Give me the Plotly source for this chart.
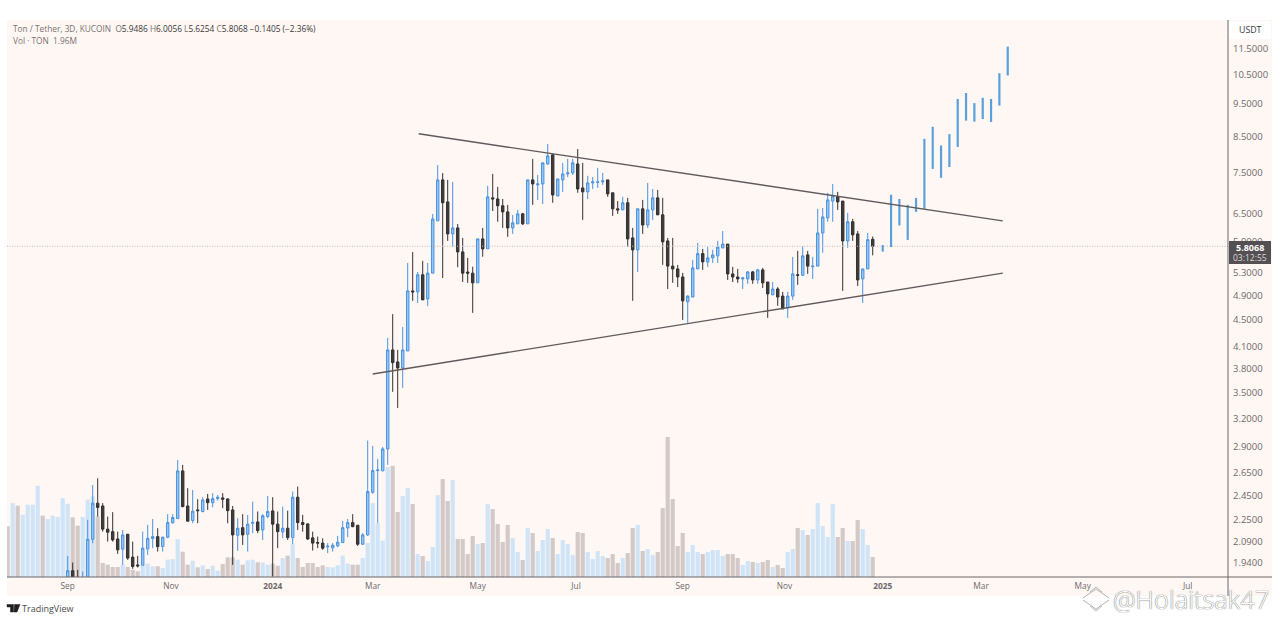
import pandas as pd
import plotly.graph_objects as go

# ---------- data ----------
first_bar = "2023-07-26"
first_candle_index = 12

volumes_m = [
 4.97,7.25,6.99,6.11,7.09,7.09,8.95,6.01,5.68,6.01,5.88,7.74,
 7.19,5.85,5.03,5.88,7.58,7.91,5.95,1.37,1.21,0.98,
 0.98,1.21,0.98,0.72,0.56,1.21,1.31,1.05,1.05,0.88,
 1.70,1.76,3.72,2.48,1.21,1.60,0.95,1.14,0.78,1.11,
 0.62,1.27,1.93,1.93,1.70,1.21,1.63,1.70,1.44,1.44,
 1.21,1.31,1.11,1.86,2.09,3.27,1.86,0.98,1.37,1.37,
 0.98,1.14,0.98,0.95,1.14,2.09,1.31,1.21,1.21,1.86,
 3.33,7.25,5.29,3.57,10.78,10.9,6.37,7.94,8.72,7.15,
 2.25,2.06,1.57,2.94,8.04,9.60,7.45,9.51,3.72,3.72,
 2.25,4.02,3.23,3.33,7.15,6.66,5.19,3.43,5.10,3.82,
 2.45,1.67,4.80,4.31,2.55,3.63,4.70,3.82,2.25,3.63,
 3.23,2.16,4.41,4.31,2.45,1.76,2.55,2.06,1.86,2.25,
 1.37,1.86,2.35,4.80,5.10,2.55,2.74,2.16,2.45,6.76,
 13.72,7.64,3.04,4.31,2.45,3.14,2.45,2.25,2.45,2.65,
 2.65,2.06,2.25,2.25,1.86,1.18,1.57,1.47,1.37,1.47,
 1.67,0.98,1.18,0.88,2.45,2.74,4.80,4.61,4.12,4.70,
 7.25,5.00,3.92,7.15,3.92,4.80,3.53,3.53,5.59,4.70,3.14,1.96,
]
# direction of the first volume bars, whose candles sit below the visible scale
early_volume_up = [0,1,0,1,1,1,1,0,1,1,1,1]

opens = [
 1.80,1.888,1.82,1.80,1.83,2.105,2.385,2.362,2.18,2.161,
 2.107,2.034,2.142,1.979,1.926,1.924,2.036,2.11,2.124,2.052,
 2.12,2.23,2.261,2.667,2.362,2.246,2.33,2.317,2.42,2.389,
 2.423,2.429,2.42,2.33,2.134,2.191,2.142,2.225,2.235,2.174,
 2.277,2.322,2.218,2.159,2.187,2.117,2.435,2.23,2.22,2.115,
 2.081,2.077,2.05,2.043,2.057,2.081,2.189,2.23,2.21,2.069,
 2.137,2.477,2.67,2.667,2.878,4.055,3.89,3.81,4.04,4.974,
 4.957,5.26,4.838,5.29,6.34,7.306,6.77,6.06,6.187,5.694,
 5.31,5.29,5.115,5.956,5.753,6.865,6.84,6.68,6.54,6.187,
 6.275,6.495,6.275,7.306,7.18,7.205,7.72,7.968,6.91,7.306,
 7.46,7.485,7.72,7.105,7.01,7.23,7.243,7.256,7.306,6.987,
 6.61,6.585,6.75,5.976,5.733,6.61,6.25,6.585,6.865,6.473,
 5.915,5.42,5.368,5.22,4.79,4.87,5.368,5.66,5.50,5.577,
 5.616,5.772,5.85,5.276,5.22,5.185,5.185,5.313,5.167,5.35,
 5.13,4.906,5.008,4.886,4.69,4.886,5.26,5.25,5.635,5.41,
 5.42,6.08,6.405,6.79,6.89,6.79,5.915,6.32,6.06,5.185,5.368,5.9486,
]
highs = [
 1.987,1.942,1.893,1.882,2.251,2.54,2.60,2.385,2.277,2.312,
 2.161,2.174,2.142,2.088,1.987,2.161,2.212,2.258,2.187,2.124,
 2.296,2.296,2.771,2.723,2.512,2.497,2.418,2.435,2.463,2.469,
 2.454,2.469,2.426,2.362,2.264,2.296,2.29,2.398,2.317,2.296,
 2.446,2.435,2.317,2.357,2.324,2.483,2.526,2.29,2.225,2.161,
 2.124,2.112,2.077,2.077,2.129,2.243,2.258,2.296,2.21,2.15,
 2.962,2.909,2.78,2.898,4.227,4.59,4.055,4.39,5.48,5.69,
 5.31,5.52,5.48,6.49,7.69,7.48,7.306,7.256,6.27,5.976,
 5.577,5.41,5.956,6.187,7.157,7.46,7.13,6.84,6.70,6.47,
 6.585,6.517,7.306,7.857,7.43,7.75,8.276,7.996,7.33,7.75,
 7.857,7.857,8.13,7.75,7.41,7.38,7.615,7.485,7.306,6.987,
 6.79,6.89,6.865,6.187,6.61,6.817,7.23,7.08,7.057,6.865,
 5.976,5.976,5.443,5.295,4.90,5.538,5.874,5.753,5.79,5.733,
 5.915,6.12,5.85,5.405,5.368,5.22,5.33,5.33,5.368,5.387,
 5.13,5.13,5.04,4.957,4.957,5.596,5.714,5.81,5.714,5.596,
 6.61,6.63,6.987,7.205,7.01,6.79,6.517,6.383,6.12,5.368,6.08,6.0056,
]
lows = [
 1.78,1.76,1.78,1.78,1.80,2.077,2.277,2.161,2.088,2.088,
 2.001,1.926,1.96,1.90,1.909,1.924,1.994,2.041,2.017,2.017,
 2.112,2.22,2.261,2.351,2.238,2.225,2.225,2.31,2.33,2.351,
 2.406,2.344,2.225,1.926,2.022,2.064,2.017,2.15,2.15,2.10,
 2.264,1.85,2.041,2.112,2.10,2.071,2.174,2.161,2.10,2.024,
 2.041,2.029,2.006,2.017,2.048,2.077,2.12,2.194,2.057,2.064,
 2.129,2.463,2.227,2.667,2.723,3.507,3.317,3.555,4.04,4.806,
 4.77,4.822,4.72,5.29,6.34,5.20,5.915,5.79,5.40,5.13,
 5.115,4.61,5.115,5.60,5.753,6.56,6.32,6.187,5.998,6.06,
 6.275,6.25,6.275,6.70,6.817,6.72,7.70,6.75,6.91,7.01,
 7.38,7.43,6.987,6.361,6.84,7.08,7.105,7.18,6.89,6.45,
 6.495,6.585,5.79,4.806,5.31,6.06,6.187,6.361,6.473,5.443,
 5.008,5.115,5.04,4.499,4.455,4.87,5.368,5.35,5.405,5.48,
 5.48,5.772,5.167,5.13,5.115,5.008,5.097,5.097,5.097,5.025,
 4.53,4.906,4.723,4.674,4.53,4.822,5.08,5.24,5.276,5.185,
 5.42,5.675,6.32,6.32,6.585,4.974,5.772,5.915,5.06,4.77,5.368,5.6254,
]
closes = [
 1.888,1.80,1.80,1.83,2.105,2.385,2.35,2.18,2.157,2.10,
 2.029,2.137,1.972,1.915,1.919,2.041,2.112,2.124,2.052,2.12,
 2.23,2.269,2.667,2.357,2.241,2.32,2.324,2.412,2.389,2.423,
 2.435,2.418,2.324,2.137,2.187,2.137,2.218,2.23,2.169,2.283,
 2.317,2.218,2.161,2.187,2.117,2.435,2.23,2.215,2.107,2.077,
 2.077,2.041,2.055,2.062,2.084,2.191,2.23,2.199,2.069,2.137,
 2.483,2.67,2.676,2.878,4.055,3.88,3.81,4.055,4.974,4.957,
 5.26,4.822,5.29,6.38,7.306,6.75,6.06,6.187,5.694,5.29,
 5.29,5.115,5.956,5.753,6.889,6.84,6.68,6.54,6.187,6.296,
 6.495,6.275,7.306,7.205,7.205,7.75,7.94,6.935,7.33,7.46,
 7.485,7.75,7.08,7.01,7.23,7.256,7.256,7.28,6.96,6.61,
 6.585,6.75,5.956,5.733,6.61,6.25,6.585,6.865,6.473,5.895,
 5.42,5.368,5.22,4.806,4.886,5.387,5.66,5.50,5.577,5.635,
 5.79,5.85,5.276,5.22,5.185,5.203,5.313,5.167,5.35,5.115,
 4.923,5.008,4.87,4.674,4.886,5.276,5.25,5.616,5.42,5.42,
 6.08,6.427,6.817,6.91,6.77,5.915,6.32,6.04,5.167,5.368,5.94,5.8068,
]

projection_start = "2025-01-01"
projection_low = [5.70,5.79,6.24,5.935,6.54,6.61,7.59,7.36,7.64,8.19,8.97,8.94,9.02,8.93,9.45,10.49]
projection_high = [5.83,6.94,6.84,6.70,6.865,8.42,8.78,8.23,8.56,9.67,9.87,9.53,9.71,9.67,10.57,11.59]

upper_trend_dates = ["2024-03-28 14:00", "2025-03-14"]
upper_trend_prices = [8.57, 6.34]
lower_trend_dates = ["2024-03-01", "2025-03-14"]
lower_trend_prices = [3.73, 5.29]

last_price = 5.8068

price_ticks = [11.5,10.5,9.5,8.5,7.5,6.5,5.9,5.3,4.9,4.5,4.1,3.8,3.5,3.2,2.9,2.65,2.45,2.25,2.09,1.94]
time_tick_dates = ["2023-08-31","2023-11-01","2024-01-01","2024-03-01","2024-05-03","2024-07-01",
                   "2024-09-03","2024-11-03","2025-01-01","2025-03-01","2025-05-01","2025-07-03"]
time_tick_labels = ["Sep","Nov","<b>2024</b>","Mar","May","Jul","Sep","Nov","<b>2025</b>","Mar","May","Jul"]

# ---------- styling ----------
W, H = 1280, 621
L, R, T, B = 7, 1228, 20, 577
PANE = "#fff7f4"
UP_FILL, UP_LINE = "#93c5f2", "#4a94e0"
DOWN_FILL, DOWN_LINE = "#3d3b3b", "#333131"
VOL_UP, VOL_DOWN = "#d0e4f7", "#d3cac7"
AXIS = "#6b6668"
FONT = "Open Sans"

def px(x): return (x - L) / (R - L)
def py(y): return (B - y) / (B - T)

bar_dates = pd.date_range(first_bar, periods=len(volumes_m), freq="3D")
candle_dates = bar_dates[first_candle_index:]
volume_up = early_volume_up + [c >= o for o, c in zip(opens, closes)]
volume_colors = [VOL_UP if u else VOL_DOWN for u in volume_up]

proj_dates = pd.date_range(projection_start, periods=len(projection_low), freq="5D")
proj_x, proj_y = [], []
for d, lo, hi in zip(proj_dates, projection_low, projection_high):
    proj_x += [d, d, None]
    proj_y += [lo, hi, None]

x_range = ["2023-07-25 14:00", "2025-07-27 04:00"]

fig = go.Figure()
fig.add_bar(x=bar_dates, y=volumes_m, marker=dict(color=volume_colors, line_width=0),
            yaxis="y", hoverinfo="skip")
fig.add_scatter(x=x_range, y=[last_price, last_price], yaxis="y2", mode="lines",
                line=dict(color="#c4bdba", width=1, dash="1px,1.5px"), hoverinfo="skip")
fig.add_candlestick(x=candle_dates, open=opens, high=highs, low=lows, close=closes, yaxis="y2",
                    increasing=dict(fillcolor=UP_FILL, line=dict(color=UP_LINE, width=1)),
                    decreasing=dict(fillcolor=DOWN_FILL, line=dict(color=DOWN_LINE, width=1)),
                    hoverinfo="skip")
fig.add_scatter(x=proj_x, y=proj_y, yaxis="y2", mode="lines",
                line=dict(color="#5aa0dc", width=2.2), hoverinfo="skip")
fig.add_scatter(x=upper_trend_dates, y=upper_trend_prices, yaxis="y2", mode="lines",
                line=dict(color="#5f5a5c", width=1.4), hoverinfo="skip")
fig.add_scatter(x=lower_trend_dates, y=lower_trend_prices, yaxis="y2", mode="lines",
                line=dict(color="#5f5a5c", width=1.4), hoverinfo="skip")

def rect(x0, y0, x1, y1, color, layer="above"):
    return dict(type="rect", xref="paper", yref="paper", x0=px(x0), x1=px(x1), y0=py(y0), y1=py(y1),
                fillcolor=color, line_width=0, layer=layer)

def seg(x0, y0, x1, y1, color=AXIS, width=1):
    return dict(type="line", xref="paper", yref="paper", x0=px(x0), x1=px(x1), y0=py(y0), y1=py(y1),
                line=dict(color=color, width=width), layer="above")

def poly(points, color="#a9a9a9", width=1, fill="rgba(0,0,0,0)", close=False):
    p = "M" + " L".join(f"{px(a):.5f},{py(b):.5f}" for a, b in points) + (" Z" if close else "")
    return dict(type="path", xref="paper", yref="paper", path=p,
                line=dict(color=color, width=width), fillcolor=fill, layer="above")

shapes = [
    rect(L, T, 1272, 596, PANE, "below"),
    seg(L, B, 1272, B),
    seg(R, T, R, 596),
    rect(1229, 21, 1271, 39, "#ffffff"),
    rect(1229, 241, 1271, 264, "#544f52"),
    # watermark mark
    poly([(1083, 598), (1096, 589), (1109, 598)], "#b4b4b4"),
    poly([(1090, 592), (1096, 587), (1102, 592)], "#b4b4b4"),
    poly([(1083, 600), (1096, 609), (1109, 600)], "#b4b4b4"),
    poly([(1090, 606), (1096, 611), (1102, 606)], "#b4b4b4"),
    # TradingView mark
    poly([(7, 604.5), (13.5, 604.5), (13.5, 612), (10.5, 612), (10.5, 607), (7, 607)], "#1f1f1f", 0.5, "#1f1f1f", True),
    poly([(14.5, 604.5), (20, 604.5), (17, 612), (14, 612)], "#1f1f1f", 0.5, "#1f1f1f", True),
]

GRAY = "#777273"
DARK = "#3a3739"
def v(t): return f'<span style="color:{DARK}">{t}</span>'
header = (f"Ton / Tether, 3D, KUCOIN &nbsp;O{v('5.9486')} H{v('6.0056')} L{v('5.6254')} C{v('5.8068')} "
          f"{v('−0.1405 (−2.36%)')}")

def note(x, y, text, size=8, color=GRAY, anchor="left", **font_extra):
    return dict(xref="paper", yref="paper", x=px(x), y=py(y), text=text, showarrow=False,
                xanchor=anchor, yanchor="middle", align=anchor, xshift=0, yshift=0, borderpad=0,
                font=dict(family=FONT, size=size, color=color, **font_extra))

annotations = [
    note(12, 29, header, 8.3),
    note(12, 40, "Vol · TON &nbsp;1.96M", 8.3),
    note(1250, 30, "USDT", 8.8, "#3a3a3a", "center"),
    note(1250, 247, "<b>5.8068</b>", 9, "#ffffff", "center"),
    note(1250, 257.5, "03:12:55", 8.5, "#dedada", "center"),
    note(21, 608, "TradingView", 9, "#4a4a4a"),
    note(1112, 599, "@Holaitsak47", 25.5, "#ffffff", "left", shadow="0 0 1px #777, 0 0 1px #777", weight=300),
]

fig.update_layout(
    width=W, height=H, autosize=False,
    margin=dict(l=L, r=W - R, t=T, b=H - B, pad=0),
    paper_bgcolor="#ffffff", plot_bgcolor="rgba(0,0,0,0)",
    showlegend=False, hovermode=False, bargap=0.16,
    font=dict(family=FONT),
    shapes=shapes, annotations=annotations,
    xaxis=dict(type="date", range=x_range, rangeslider_visible=False, showgrid=False, zeroline=False,
               showline=False, ticks="", tickmode="array", tickvals=time_tick_dates,
               ticktext=time_tick_labels, tickangle=0, ticklabelstandoff=3,
               tickfont=dict(family=FONT, size=8.3, color="#6e696a")),
    yaxis=dict(range=[0, 54.6], visible=False, fixedrange=True),
    yaxis2=dict(type="log", overlaying="y", side="right", anchor="x",
                range=[0.26646, 1.10415], showgrid=False, zeroline=False, showline=False, ticks="",
                tickmode="array", tickvals=price_ticks, ticktext=[f"{p:.4f}" for p in price_ticks],
                ticklabelstandoff=4, tickfont=dict(family=FONT, size=9.5, color="#6e696a")),
)

fig.write_html("out.html", config=dict(displayModeBar=False),
               post_script="document.body.style.margin='0';document.body.style.overflow='hidden';")
